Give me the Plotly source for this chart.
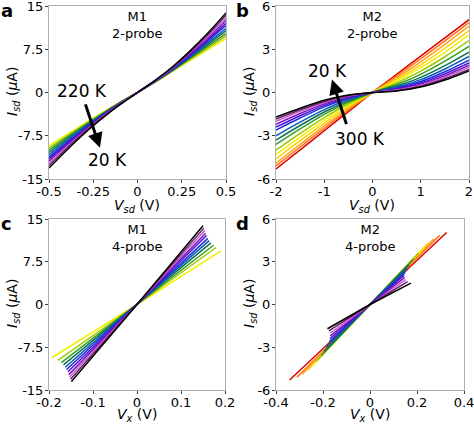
import plotly.graph_objects as go

# ---------------- data ----------------
TEMPS_M1 = [20, 40, 60, 80, 100, 120, 140, 160, 180, 200, 220]
TEMPS_M2 = [20, 40, 60, 80, 100, 120, 140, 160, 180, 200, 220, 240, 260, 280, 300]

# panel a: M1 2-probe, I_sd (uA) vs V_sd (V)
A_V = [-0.5, -0.4, -0.3, -0.2, -0.1, 0.0, 0.1, 0.2, 0.3, 0.4, 0.5]
A_I = [
    [-13.1, -10.0, -7.1, -4.5, -2.1, 0, 2.1, 4.5, 7.3, 10.4, 13.8],
    [-12.7, -9.7, -6.9, -4.4, -2.1, 0, 2.1, 4.4, 7.1, 10.1, 13.4],
    [-12.3, -9.5, -6.8, -4.3, -2.0, 0, 2.0, 4.3, 7.0, 9.8, 12.9],
    [-11.9, -9.2, -6.6, -4.2, -2.0, 0, 2.0, 4.3, 6.8, 9.5, 12.5],
    [-11.5, -8.9, -6.4, -4.1, -1.9, 0, 2.0, 4.2, 6.6, 9.2, 12.0],
    [-11.2, -8.7, -6.3, -4.0, -1.9, 0, 2.0, 4.1, 6.5, 9.0, 11.6],
    [-10.8, -8.4, -6.1, -3.9, -1.9, 0, 1.9, 4.0, 6.3, 8.7, 11.1],
    [-10.4, -8.1, -5.9, -3.8, -1.8, 0, 1.9, 3.9, 6.1, 8.4, 10.7],
    [-10.0, -7.8, -5.7, -3.7, -1.8, 0, 1.9, 3.9, 6.0, 8.1, 10.2],
    [-9.6, -7.6, -5.6, -3.6, -1.7, 0, 1.8, 3.8, 5.8, 7.8, 9.8],
    [-9.2, -7.3, -5.4, -3.5, -1.7, 0, 1.8, 3.7, 5.6, 7.5, 9.3],
]

# panel b: M2 2-probe
B_V = [-2.0, -1.5, -1.0, -0.5, 0.0, 0.5, 1.0, 1.5, 2.0]
B_I = [
    [-1.70, -1.09, -0.54, -0.17, 0, 0.11, 0.38, 0.87, 1.50],
    [-1.85, -1.20, -0.62, -0.21, 0, 0.13, 0.43, 0.95, 1.60],
    [-2.00, -1.31, -0.69, -0.24, 0, 0.17, 0.50, 1.06, 1.75],
    [-2.20, -1.46, -0.79, -0.29, 0, 0.21, 0.58, 1.17, 1.90],
    [-2.40, -1.61, -0.89, -0.34, 0, 0.25, 0.66, 1.29, 2.05],
    [-2.60, -1.77, -1.00, -0.40, 0, 0.30, 0.76, 1.44, 2.25],
    [-3.00, -2.06, -1.19, -0.49, 0, 0.37, 0.89, 1.63, 2.50],
    [-3.30, -2.29, -1.35, -0.58, 0, 0.45, 1.05, 1.86, 2.80],
    [-3.60, -2.53, -1.52, -0.67, 0, 0.55, 1.26, 2.17, 3.20],
    [-4.00, -2.84, -1.74, -0.78, 0, 0.67, 1.48, 2.48, 3.60],
    [-4.30, -3.09, -1.93, -0.89, 0, 0.80, 1.72, 2.80, 4.00],
    [-4.60, -3.34, -2.12, -1.00, 0, 0.91, 1.92, 3.07, 4.30],
    [-4.90, -3.60, -2.32, -1.12, 0, 1.03, 2.13, 3.34, 4.60],
    [-5.10, -3.78, -2.48, -1.22, 0, 1.15, 2.34, 3.58, 4.85],
    [-5.30, -3.98, -2.65, -1.33, 0, 1.26, 2.53, 3.79, 5.05],
]

# panel c: M1 4-probe, straight lines (end points)
C_VX_NEG = [-0.149, -0.151, -0.153, -0.155, -0.157, -0.160, -0.163, -0.167, -0.172, -0.180, -0.193]
C_I_NEG = [-13.5, -13.1, -12.7, -12.3, -11.8, -11.4, -11.0, -10.6, -10.2, -9.8, -9.3]
C_VX_POS = [0.150, 0.152, 0.154, 0.156, 0.158, 0.161, 0.164, 0.168, 0.174, 0.180, 0.191]
C_I_POS = [13.8, 13.4, 13.0, 12.5, 12.1, 11.6, 11.2, 10.8, 10.4, 10.0, 9.4]

# panel d: M2 4-probe, straight lines (end points)
D_VX_NEG = [-0.181, -0.175, -0.169, -0.169, -0.171, -0.173, -0.188, -0.196, -0.208,
            -0.229, -0.246, -0.264, -0.288, -0.311, -0.342]
D_I_NEG = [-1.70, -1.85, -2.00, -2.20, -2.40, -2.60, -3.00, -3.30, -3.60,
           -4.00, -4.30, -4.60, -4.90, -5.10, -5.30]
D_VX_POS = [0.174, 0.160, 0.152, 0.148, 0.146, 0.150, 0.156, 0.167, 0.185,
            0.206, 0.229, 0.247, 0.271, 0.296, 0.326]
D_I_POS = [1.50, 1.60, 1.75, 1.90, 2.05, 2.25, 2.50, 2.80, 3.20,
           3.60, 4.00, 4.30, 4.60, 4.85, 5.05]

# ---------------- style ----------------
T_COLORS = {
    20: "#000000", 40: "#6a1f6a", 60: "#c060c8", 80: "#8010c0", 100: "#4a10d0",
    120: "#1c2ee0", 140: "#0a58b8", 160: "#127050", 180: "#30a020", 200: "#a0c800",
    220: "#f0f000", 240: "#ffd000", 260: "#ffa020", 280: "#ff7010", 300: "#e00000",
}
FONT = "DejaVu Sans"
W, H = 474, 424


def px_x(p):
    return p / W


def px_y(p):
    return 1 - p / H


DOM = {
    "a": ([px_x(49), px_x(226)], [px_y(179), px_y(6)]),
    "b": ([px_x(276), px_x(469)], [px_y(179), px_y(6)]),
    "c": ([px_x(49), px_x(225)], [px_y(390), px_y(219)]),
    "d": ([px_x(276), px_x(464)], [px_y(390), px_y(219)]),
}

fig = go.Figure()


def add_line(x, y, color, xa, ya, smooth=False):
    fig.add_trace(go.Scatter(
        x=x, y=y, mode="lines", xaxis=xa, yaxis=ya, showlegend=False,
        line=dict(color=color, width=1.5, shape="spline" if smooth else "linear",
                  smoothing=0.8),
        hoverinfo="skip"))


for i in reversed(range(len(TEMPS_M1))):
    add_line(A_V, A_I[i], T_COLORS[TEMPS_M1[i]], "x", "y", smooth=True)
for i in reversed(range(len(TEMPS_M2))):
    add_line(B_V, B_I[i], T_COLORS[TEMPS_M2[i]], "x2", "y2", smooth=True)
for i in reversed(range(len(TEMPS_M1))):
    add_line([C_VX_NEG[i], 0, C_VX_POS[i]], [C_I_NEG[i], 0, C_I_POS[i]],
             T_COLORS[TEMPS_M1[i]], "x3", "y3")
for i in reversed(range(len(TEMPS_M2))):
    add_line([D_VX_NEG[i], 0, D_VX_POS[i]], [D_I_NEG[i], 0, D_I_POS[i]],
             T_COLORS[TEMPS_M2[i]], "x4", "y4")


def ax_common(dom, rng, tv, tt, anchor, standoff):
    return dict(domain=dom, range=rng, tickvals=tv, ticktext=tt, anchor=anchor,
                automargin=False, ticklabeloverflow="allow", ticklabelstandoff=standoff,
                showgrid=False, zeroline=False, showline=True, mirror=True,
                linecolor="#b0b0b0", linewidth=1, ticks="outside", ticklen=3,
                tickcolor="#404040", tickwidth=1,
                tickfont=dict(family=FONT, size=13, color="black"))


X_TV_A = [-0.5, -0.25, 0, 0.25, 0.5]
X_TT_A = ["-0.5", "-0.25", "0", "0.25", "0.5"]
Y_TV_15 = [-15, -7.5, 0, 7.5, 15]
Y_TT_15 = ["-15", "-7.5", "0", "7.5", "15"]
X_TV_B = [-2, -1, 0, 1, 2]
X_TT_B = ["-2", "-1", "0", "1", "2"]
Y_TV_6 = [-6, -3, 0, 3, 6]
Y_TT_6 = ["-6", "-3", "0", "3", "6"]
X_TV_C = [-0.2, -0.1, 0, 0.1, 0.2]
X_TT_C = ["-0.2", "-0.1", "0", "0.1", "0.2"]
X_TV_D = [-0.4, -0.2, 0, 0.2, 0.4]
X_TT_D = ["-0.4", "-0.2", "0", "0.2", "0.4"]

XS, YS = -3, -1
fig.update_layout(
    width=W, height=H, margin=dict(l=0, r=0, t=0, b=0, autoexpand=False),
    paper_bgcolor="white", plot_bgcolor="white",
    xaxis=ax_common(DOM["a"][0], [-0.5, 0.5], X_TV_A, X_TT_A, "y", XS),
    yaxis=ax_common(DOM["a"][1], [-15, 15], Y_TV_15, Y_TT_15, "x", YS),
    xaxis2=ax_common(DOM["b"][0], [-2, 2], X_TV_B, X_TT_B, "y2", XS),
    yaxis2=ax_common(DOM["b"][1], [-6, 6], Y_TV_6, Y_TT_6, "x2", YS),
    xaxis3=ax_common(DOM["c"][0], [-0.2, 0.2], X_TV_C, X_TT_C, "y3", XS),
    yaxis3=ax_common(DOM["c"][1], [-15, 15], Y_TV_15, Y_TT_15, "x3", YS),
    xaxis4=ax_common(DOM["d"][0], [-0.4, 0.4], X_TV_D, X_TT_D, "y4", XS),
    yaxis4=ax_common(DOM["d"][1], [-6, 6], Y_TV_6, Y_TT_6, "x4", YS),
)

ann = []


def ptext(x, y, text, size, angle=0):
    ann.append(dict(x=px_x(x), y=px_y(y), xref="paper", yref="paper", text=text,
                    showarrow=False, textangle=angle, xanchor="center", yanchor="middle",
                    font=dict(family=FONT, size=size, color="black")))


# panel letters
for L, (x, y) in {"a": (7, 10), "b": (243, 10), "c": (6, 223), "d": (243, 223)}.items():
    ptext(x, y, "<b>%s</b>" % L, 18)

# axis titles
YT = "<i>I</i><sub><i>sd</i></sub> (<i>μ</i>A)"
ptext(13, 92, YT, 14, angle=-90)
ptext(250, 92, YT, 14, angle=-90)
ptext(13, 304, YT, 14, angle=-90)
ptext(250, 304, YT, 14, angle=-90)
ptext(137, 206, "<i>V</i><sub><i>sd</i></sub> (V)", 14)
ptext(372, 206, "<i>V</i><sub><i>sd</i></sub> (V)", 14)
ptext(137, 415, "<i>V</i><sub><i>x</i></sub> (V)", 14)
ptext(370, 415, "<i>V</i><sub><i>x</i></sub> (V)", 14)

# sample labels
ptext(137, 25, "M1<br>2-probe", 13)
ptext(372, 25, "M2<br>2-probe", 13)
ptext(137, 238, "M1<br>4-probe", 13)
ptext(370, 238, "M2<br>4-probe", 13)

# temperature arrows and labels
ann.append(dict(x=-0.212, y=-9.6, ax=-0.297, ay=-1.8, xref="x", yref="y", axref="x", ayref="y",
                showarrow=True, arrowhead=2, arrowsize=1, arrowwidth=3, arrowcolor="black", text=""))
ann.append(dict(x=-0.84, y=0.9, ax=-0.53, ay=-2.3, xref="x2", yref="y2", axref="x2", ayref="y2",
                showarrow=True, arrowhead=2, arrowsize=1, arrowwidth=3, arrowcolor="black", text=""))
for (x, y, t, xr, yr) in [(-0.314, 0.3, "220 K", "x", "y"), (-0.167, -11.7, "20 K", "x", "y"),
                          (-0.94, 1.47, "20 K", "x2", "y2"), (-0.26, -3.21, "300 K", "x2", "y2")]:
    ann.append(dict(x=x, y=y, xref=xr, yref=yr, text=t, showarrow=False,
                    xanchor="center", yanchor="middle",
                    font=dict(family=FONT, size=17, color="black")))

fig.update_layout(annotations=ann)
fig.write_html("out.html")
